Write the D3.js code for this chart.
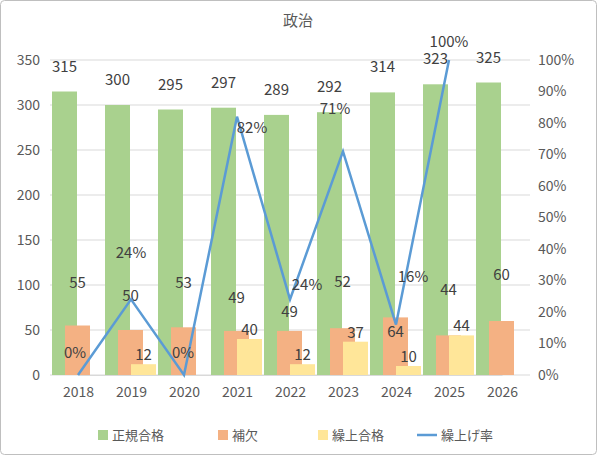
<!DOCTYPE html>
<html><head><meta charset="utf-8">
<script src="https://cdn.jsdelivr.net/npm/d3@7"></script>
<style>body{margin:0;background:#fff}text{font-family:"Noto Sans CJK JP","DejaVu Sans",sans-serif}</style>
</head><body>
<svg id="chart" width="597" height="455"></svg>
<script>
var years = ["2018","2019","2020","2021","2022","2023","2024","2025","2026"];
var seiki = [315,300,295,297,289,292,314,323,325];
var hoketsu = [55,50,53,49,49,52,64,44,60];
var kuriage = [null,12,null,40,12,37,10,44,null];
var rate = [0,24,0,82,24,71,16,100,null];
var leftTicks = [0,50,100,150,200,250,300,350];
var rightTicks = [0,10,20,30,40,50,60,70,80,90,100];
// label placement offsets (px), as Excel placed them
var hoketsuDy = [-38,-29,-39,-28,-14,-41,20,-40,-41];
var rateOff = [[-3,-17],[0,-41],[-1,-17],[15,16],[17,-9],[-8,-37],[17,-43],[0,-13],null];

var svg = d3.select("#chart");
svg.append("rect").attr("x",0.5).attr("y",0.5).attr("width",596).attr("height",454)
  .attr("rx",4).attr("fill","#fff").attr("stroke","#bfbfbf");

var x = d3.scalePoint().domain(years).range([78,502]);
var y = d3.scaleLinear().domain([0,350]).range([375,60]);
var y2 = d3.scaleLinear().domain([0,100]).range([375,60]);
var bw = 25;

svg.append("text").attr("x",298).attr("y",26).attr("text-anchor","middle")
  .attr("font-size",15).attr("fill","#595959").text("政治");

svg.append("g").selectAll("line").data(leftTicks).enter().append("line")
  .attr("x1",50).attr("x2",530).attr("y1",function(d){return y(d);}).attr("y2",function(d){return y(d);})
  .attr("stroke","#d9d9d9");

var la = svg.append("g").attr("transform","translate(50,0)")
  .call(d3.axisLeft(y).tickValues(leftTicks).tickSize(0).tickPadding(10));
la.select(".domain").remove();
var ra = svg.append("g").attr("transform","translate(530,0)")
  .call(d3.axisRight(y2).tickValues(rightTicks).tickSize(0).tickPadding(8).tickFormat(function(d){return d+"%";}));
ra.select(".domain").remove();
var xa = svg.append("g").attr("transform","translate(0,375)")
  .call(d3.axisBottom(x).tickSize(0).tickPadding(12));
xa.select(".domain").attr("stroke","#d9d9d9");
svg.selectAll(".tick text").attr("font-size",14).attr("fill","#595959").attr("font-family","DejaVu Sans, sans-serif");

function bars(vals, off, color) {
  var g = svg.append("g");
  var d = vals.map(function(v,i){return {v:v,y:years[i],i:i};}).filter(function(d){return d.v!=null;});
  g.selectAll("rect").data(d).enter().append("rect")
    .attr("x",function(d){return x(d.y)+off;}).attr("width",bw)
    .attr("y",function(d){return y(d.v);}).attr("height",function(d){return 375-y(d.v);})
    .attr("fill",color);
  return d;
}
var dg = bars(seiki,-26,"#a9d18e");
var dh = bars(hoketsu,-13,"#f4b183");
var dk = bars(kuriage,0,"#ffe699");

function labels(d, off, dyf) {
  svg.append("g").selectAll("text").data(d).enter().append("text")
    .attr("x",function(d){return x(d.y)+off+bw/2;})
    .attr("y",function(d){return y(d.v)+dyf(d);})
    .attr("text-anchor","middle").attr("font-size",15).attr("fill","#404040")
    .attr("font-family","DejaVu Sans, sans-serif")
    .text(function(d){return d.v;});
}
labels(dg,-26,function(){return -20;});
labels(dh,-13,function(d){return hoketsuDy[d.i];});
labels(dk,0,function(){return -4;});

var rd = rate.map(function(v,i){return {v:v,y:years[i],i:i};}).filter(function(d){return d.v!=null;});
svg.append("path").datum(rd)
  .attr("d",d3.line().x(function(d){return x(d.y);}).y(function(d){return y2(d.v);}))
  .attr("fill","none").attr("stroke","#5b9bd5").attr("stroke-width",2.5);
svg.append("g").selectAll("text").data(rd).enter().append("text")
  .attr("x",function(d){return x(d.y)+rateOff[d.i][0];})
  .attr("y",function(d){return y2(d.v)+rateOff[d.i][1];})
  .attr("text-anchor","middle").attr("font-size",15).attr("fill","#404040")
  .attr("font-family","DejaVu Sans, sans-serif")
  .text(function(d){return d.v+"%";});

var legend = [
  {name:"正規合格",color:"#a9d18e",x:98,t:"rect"},
  {name:"補欠",color:"#f4b183",x:218,t:"rect"},
  {name:"繰上合格",color:"#ffe699",x:318,t:"rect"},
  {name:"繰上げ率",color:"#5b9bd5",x:425,t:"line"}
];
var lg = svg.append("g").selectAll("g").data(legend).enter().append("g")
  .attr("transform",function(d){return "translate("+d.x+",435)";});
lg.each(function(d){
  var s = d3.select(this);
  if (d.t=="rect") s.append("rect").attr("x",0).attr("y",-5).attr("width",10).attr("height",10).attr("fill",d.color);
  else s.append("line").attr("x1",-8).attr("x2",12).attr("y1",0).attr("y2",0).attr("stroke",d.color).attr("stroke-width",2.5);
  s.append("text").attr("x",d.t=="rect"?14:16).attr("y",5).attr("font-size",13).attr("fill","#595959").text(d.name);
});
</script>
</body></html>
